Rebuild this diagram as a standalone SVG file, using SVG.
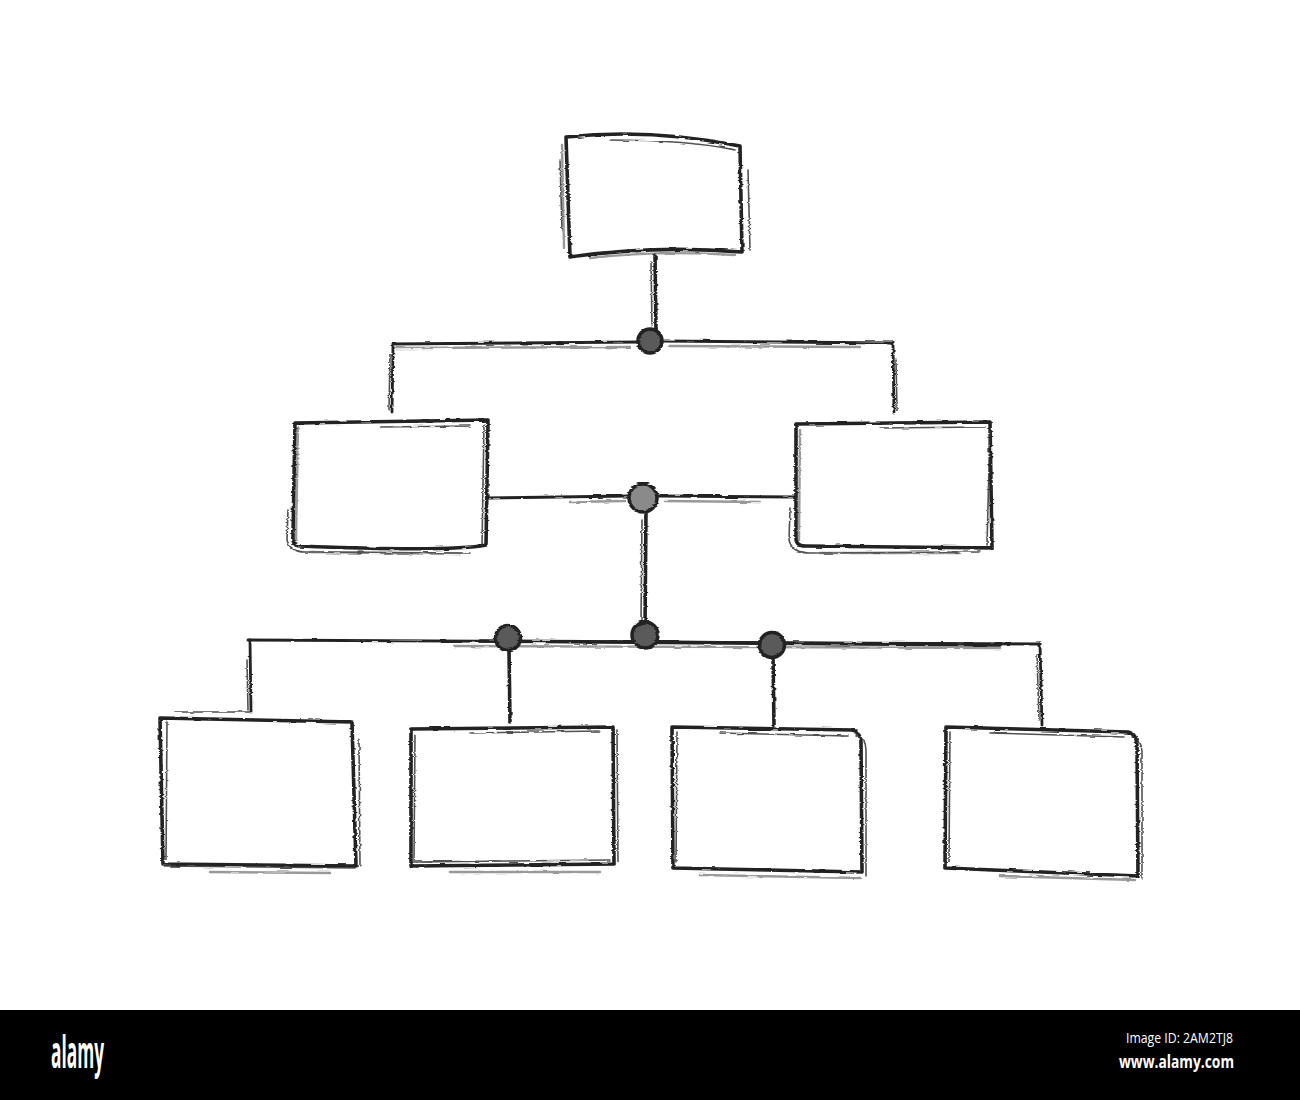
<svg xmlns="http://www.w3.org/2000/svg" width="1300" height="1100" viewBox="0 0 1300 1100">
  <defs>
    <filter id="rough" x="-5%" y="-5%" width="110%" height="110%">
      <feTurbulence type="fractalNoise" baseFrequency="0.06 0.5" numOctaves="2" seed="3" result="n"/>
      <feDisplacementMap in="SourceGraphic" in2="n" scale="3" xChannelSelector="R" yChannelSelector="G"/>
    </filter>
    <style>
      .main{fill:none;stroke:#222;stroke-width:3.6;stroke-linecap:round;stroke-linejoin:round}
      .thin{fill:none;stroke:#333;stroke-width:1.6;stroke-linecap:round;opacity:.85}
      .ghost{fill:none;stroke:#555;stroke-width:2.4;stroke-linecap:round;opacity:.6}
      .line{fill:none;stroke:#222;stroke-width:2.8;stroke-linecap:round}
      .junc{fill:#5a5a5a;stroke:#222;stroke-width:3.5}
      .foot{font-family:"Open Sans","Liberation Sans",sans-serif;fill:#fff}
    </style>
  </defs>
  <rect width="1300" height="1100" fill="#fff"/>

  <g id="connectors" filter="url(#rough)">
    <path class="main" d="M655 255 L656 330"/>
    <path class="thin" d="M651 262 L652 325"/>
    <path class="line" d="M393 344 L640 342 M662 341 L893 343"/>
    <path class="ghost" d="M395 348 L630 347 M670 346 L860 347"/>
    <path class="line" d="M393 344 L392 412"/>
    <path class="thin" d="M390 355 L389 410"/>
    <path class="line" d="M893 343 L894 412"/>
    <path class="thin" d="M896 360 L897 410"/>
    <circle class="junc" cx="650" cy="341" r="12"/>
    <path class="line" d="M488 498 L628 496 M658 496 L795 497"/>
    <path class="ghost" d="M570 502 L625 501 M665 501 L760 502"/>
    <path class="main" d="M646 510 L645 627"/>
    <path class="thin" d="M642 520 L641 620"/>
    <circle class="junc" cx="643" cy="498" r="14" style="fill:#8a8a8a"/>
    <path class="line" d="M248 640 L1040 644"/>
    <path class="ghost" d="M455 646 L1000 648"/>
    <path class="main" d="M480 641 L1000 645"/>
    <path class="line" d="M250 640 L251 712"/>
    <path class="thin" d="M247 660 L248 710"/>
    <path class="main" d="M509 650 L510 722"/>
    <path class="main" d="M773 657 L774 725"/>
    <path class="line" d="M1040 644 L1042 725"/>
    <path class="thin" d="M1037 655 L1039 720"/>
    <circle class="junc" cx="508" cy="638" r="12.5"/>
    <circle class="junc" cx="645" cy="635" r="13"/>
    <circle class="junc" cx="772" cy="645" r="12.5"/>
  </g>

  <g id="node-top" filter="url(#rough)">
    <path class="main" d="M566 137 Q650 128 740 146 L742 252 Q655 245 570 257 Z"/>
    <path class="thin" d="M560 160 L562 230 M748 170 L750 250 M610 140 Q690 140 735 150"/>
    <path class="ghost" d="M562 145 L564 248 M590 258 Q660 250 735 255"/>
  </g>

  <g id="node-mid-left" filter="url(#rough)">
    <path class="main" d="M295 423 L488 420 L486 545 Q450 552 300 546 Q292 546 293 536 Z"/>
    <path class="thin" d="M288 510 L287 540 Q290 552 305 552 L470 553 M484 425 L482 545 M380 427 L470 426"/>
    <path class="ghost" d="M298 428 L296 540 M310 552 L460 554"/>
  </g>

  <g id="node-mid-right" filter="url(#rough)">
    <path class="main" d="M796 424 L990 422 L992 548 L805 546 Q795 546 796 536 Z"/>
    <path class="thin" d="M790 508 L789 540 Q792 553 810 553 L980 552 M990 428 L987 545 M880 428 L985 427"/>
    <path class="ghost" d="M800 430 L799 540 M820 553 L960 553"/>
  </g>

  <g id="node-b1" filter="url(#rough)">
    <path class="main" d="M160 718 L352 722 L356 866 L163 864 Z"/>
    <path class="thin" d="M167 722 L166 860 M359 740 L360 866 M175 712 L250 712 M165 866 L355 868"/>
    <path class="ghost" d="M210 872 L330 873"/>
  </g>

  <g id="node-b2" filter="url(#rough)">
    <path class="main" d="M411 729 L613 727 L614 864 L411 866 Z"/>
    <path class="thin" d="M617 730 L618 862 M415 735 L414 860 M412 862 L610 860 M470 733 L600 731"/>
    <path class="ghost" d="M450 872 L600 872"/>
  </g>

  <g id="node-b3" filter="url(#rough)">
    <path class="main" d="M672 727 L852 730 Q860 731 861 742 L862 872 L673 868 Z"/>
    <path class="thin" d="M856 735 Q866 738 866 750 L866 876 M677 732 L676 862 M720 733 L848 736"/>
    <path class="ghost" d="M700 875 L860 878"/>
  </g>

  <g id="node-b4" filter="url(#rough)">
    <path class="main" d="M946 727 L1128 732 Q1137 734 1137 746 L1138 876 L945 868 Z"/>
    <path class="thin" d="M1132 737 Q1142 740 1142 752 L1142 878 M950 732 L949 862 M990 733 L1124 737"/>
    <path class="ghost" d="M1000 876 L1135 880"/>
  </g>

  <g id="footer">
    <rect x="0" y="1010" width="1300" height="90" fill="#000"/>
    <text class="foot" x="51" y="1068" font-size="44" font-weight="bold" textLength="53" lengthAdjust="spacingAndGlyphs">alamy</text>
    <text class="foot" x="1233" y="1043" font-size="14" text-anchor="end" textLength="107" lengthAdjust="spacingAndGlyphs">Image ID: 2AM2TJ8</text>
    <text class="foot" x="1234" y="1068" font-size="17" font-weight="bold" text-anchor="end" textLength="115" lengthAdjust="spacingAndGlyphs">www.alamy.com</text>
  </g>
</svg>
